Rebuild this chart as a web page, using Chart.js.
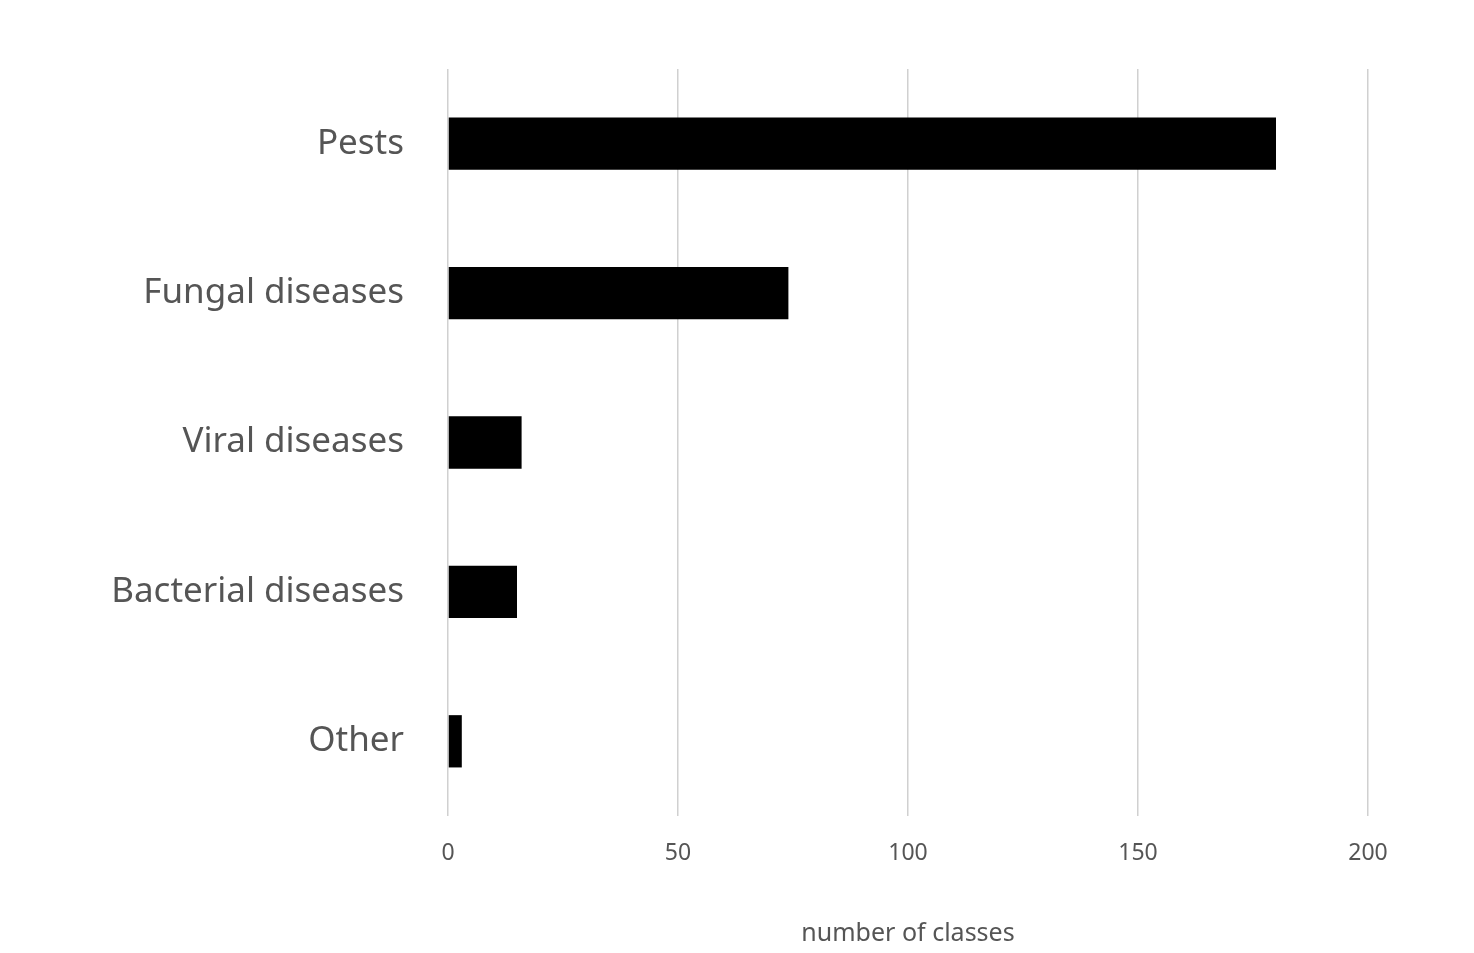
<!DOCTYPE html>
<html>
<head>
<meta charset="utf-8">
<script src="https://cdn.jsdelivr.net/npm/chart.js@4/dist/chart.umd.min.js"></script>
<style>
  html, body { margin: 0; padding: 0; background: #fff; }
  #wrap { width: 1474px; height: 953px; }
</style>
</head>
<body>
<div id="wrap"><canvas id="chart"></canvas></div>
<script>
// data
var categories = ["Pests", "Fungal diseases", "Viral diseases", "Bacterial diseases", "Other"];
var classCounts = [180, 74, 16, 15, 3];
var xTicks = [0, 50, 100, 150, 200];

var ctx = document.getElementById("chart").getContext("2d");
new Chart(ctx, {
    type: "bar",
    data: {
        labels: categories,
        datasets: [{
            data: classCounts,
            backgroundColor: "#000000",
            barPercentage: 0.35,
            categoryPercentage: 1.0
        }]
    },
    options: {
        indexAxis: "y",
        responsive: true,
        maintainAspectRatio: false,
        animation: false,
        layout: { padding: { top: 69, right: 106, left: 0, bottom: 0 } },
        plugins: { legend: { display: false }, tooltip: { enabled: false } },
        scales: {
            x: {
                min: 0,
                max: 200,
                afterBuildTicks: function(scale) {
                    scale.ticks = xTicks.map(function(v) { return { value: v }; });
                },
                afterFit: function(scale) { scale.height = 137; },
                grid: { color: "#d0d0d0", lineWidth: 1.5, drawTicks: false },
                border: { display: false },
                ticks: { padding: 24, color: "#555555", font: { family: "Noto Sans", size: 23 } },
                title: {
                    display: true,
                    text: "number of classes",
                    color: "#555555",
                    padding: { top: 8 },
                    font: { family: "Noto Sans", size: 25 }
                }
            },
            y: {
                afterFit: function(scale) { scale.width = 448; },
                grid: { display: false },
                border: { display: false },
                ticks: { padding: 36, color: "#555555", font: { family: "Noto Sans", size: 35 } }
            }
        }
    }
});
</script>
</body>
</html>
